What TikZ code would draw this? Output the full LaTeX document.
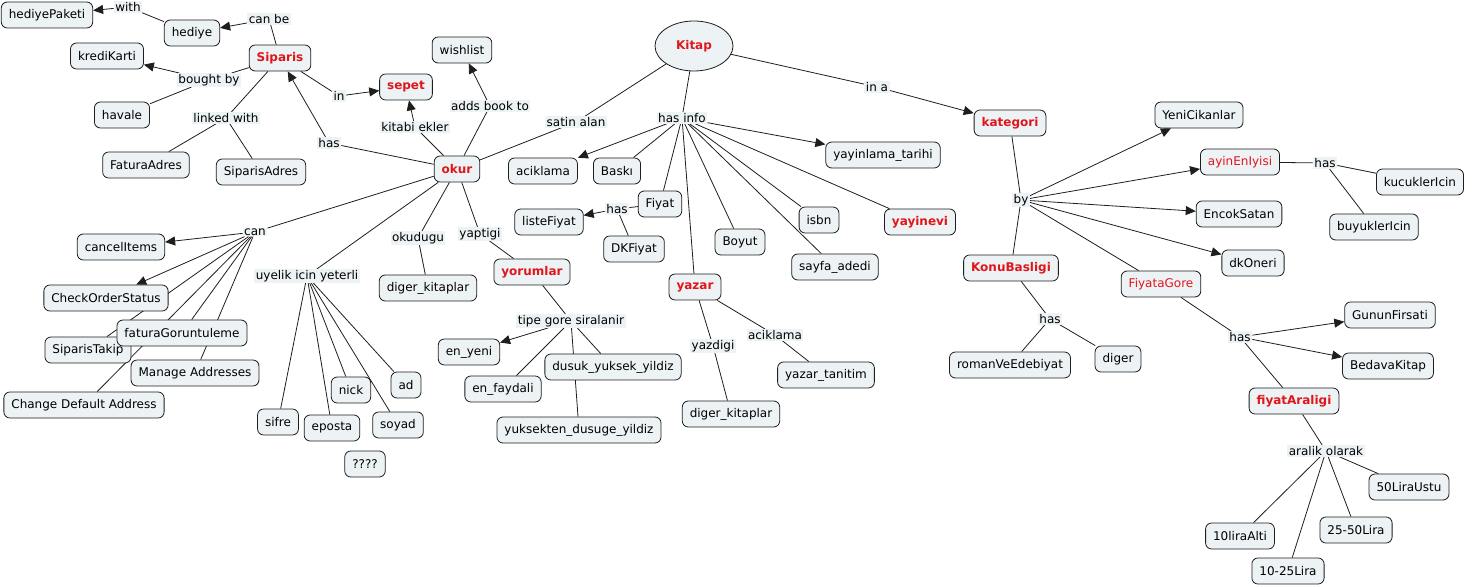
\documentclass[tikz,border=0pt]{standalone}
\usepackage{fontspec}
\setmainfont{DejaVu Sans}
\usepackage{xcolor}
\usepackage{tikz}
\usetikzlibrary{shapes.geometric, arrows.meta, backgrounds}
\definecolor{cfill}{HTML}{EDF2F5}
\definecolor{cred}{HTML}{E0161B}
\definecolor{cline}{HTML}{1E1E1E}

\begin{document}
\begin{tikzpicture}[x=1pt, y=-1pt, font=\fontsize{12}{14}\selectfont]
    \tikzstyle{concept} = [rectangle, rounded corners=6pt, draw=cline, line width=0.8pt, fill=cfill, minimum height=26pt, inner xsep=7.5pt]
    \tikzstyle{key} = [concept, text=cred, font=\fontsize{12}{14}\selectfont\bfseries]
    \tikzstyle{keylight} = [concept, text=cred]
    \tikzstyle{phrase} = [fill=cfill, inner xsep=1.5pt, inner ysep=1pt]
    \tikzstyle{line} = [draw=cline, line width=0.8pt]
    \tikzstyle{arrow} = [line, -{Triangle[length=10pt, width=9pt]}]

    \useasboundingbox (0,0) rectangle (1468,585);

    % Siparis side
    \node (hediyePaketi) [concept] at (47,15) {hediyePaketi};
    \node (hediye) [concept] at (192,33) {hediye};
    \node (siparis) [key] at (280,58) {Siparis};
    \node (krediKarti) [concept] at (107,56) {krediKarti};
    \node (havale) [concept] at (122,115) {havale};
    \node (faturaAdres) [concept] at (146,165) {FaturaAdres};
    \node (siparisAdres) [concept] at (261,172) {SiparisAdres};
    \node (sepet) [key] at (406,87) {sepet};
    \node (wishlist) [concept] at (462,50) {wishlist};
    \node (okur) [key] at (457,169) {okur};

    \node (with) [phrase] at (128,7) {with};
    \node (canBe) [phrase] at (269,19) {can be};
    \node (boughtBy) [phrase] at (209,80) {bought by};
    \node (linkedWith) [phrase] at (226,118) {linked with};
    \node (in) [phrase] at (339,96) {in};
    \node (kitabiEkler) [phrase] at (415,127) {kitabi ekler};
    \node (addsBook) [phrase] at (490,106) {adds book to};
    \node (hasSiparis) [phrase] at (329,143) {has};

    % okur below
    \node (cancelItems) [concept] at (121,247) {cancelItems};
    \node (checkOrder) [concept] at (106,298) {CheckOrderStatus};
    \node (siparisTakip) [concept] at (88,350) {SiparisTakip};
    \node (faturaGor) [concept] at (182,333) {faturaGoruntuleme};
    \node (manageAddr) [concept] at (195,373) {Manage Addresses};
    \node (changeAddr) [concept] at (84,405) {Change Default Address};
    \node (sifre) [concept] at (278,422) {sifre};
    \node (eposta) [concept] at (332,428) {eposta};
    \node (nick) [concept] at (351,390) {nick};
    \node (ad) [concept] at (406,385) {ad};
    \node (soyad) [concept] at (398,425) {soyad};
    \node (soru) [concept] at (365,464) {????};
    \node (digerKitaplar) [concept] at (428,288) {diger\_kitaplar};
    \node (yorumlar) [key] at (532,272) {yorumlar};
    \node (enYeni) [concept] at (469,352) {en\_yeni};
    \node (enFaydali) [concept] at (503,389) {en\_faydali};
    \node (dusukYuksek) [concept] at (613,367) {dusuk\_yuksek\_yildiz};
    \node (yuksektenDusuge) [concept] at (579,430) {yuksekten\_dusuge\_yildiz};

    \node (can) [phrase] at (255,232) {can};
    \node (uyelik) [phrase] at (307,276) {uyelik icin yeterli};
    \node (okudugu) [phrase] at (418,238) {okudugu};
    \node (yaptigi) [phrase] at (480,234) {yaptigi};
    \node (tipeGore) [phrase] at (571,321) {tipe gore siralanir};

    % Kitap
    \node (kitap) [ellipse, draw=cline, line width=0.8pt, fill=cfill, minimum width=78pt, minimum height=50pt, text=cred, font=\fontsize{12}{14}\selectfont\bfseries] at (694,46) {Kitap};
    \node (aciklama) [concept] at (543,171) {aciklama};
    \node (baski) [concept] at (617,171) {Baskı};
    \node (yayinlamaTarihi) [concept] at (883,155) {yayinlama\_tarihi};
    \node (fiyat) [concept] at (660,204) {Fiyat};
    \node (listeFiyat) [concept] at (549,222) {listeFiyat};
    \node (dkFiyat) [concept] at (634,249) {DKFiyat};
    \node (boyut) [concept] at (740,242) {Boyut};
    \node (isbn) [concept] at (819,220) {isbn};
    \node (yayinevi) [key] at (920,222) {yayinevi};
    \node (sayfaAdedi) [concept] at (835,267) {sayfa\_adedi};
    \node (yazar) [key] at (695,287) {yazar};
    \node (digerKitaplarB) [concept] at (731,414) {diger\_kitaplar};
    \node (yazarTanitim) [concept] at (826,375) {yazar\_tanitim};

    \node (satinAlan) [phrase] at (576,122) {satin alan};
    \node (hasInfo) [phrase] at (682,118) {has info};
    \node (inA) [phrase] at (877,87) {in a};
    \node (hasFiyat) [phrase] at (617,209) {has};
    \node (yazdigi) [phrase] at (713,346) {yazdigi};
    \node (aciklamaB) [phrase] at (775,335) {aciklama};

    % kategori
    \node (kategori) [key] at (1010,123) {kategori};
    \node (yeniCikanlar) [concept] at (1199,115) {YeniCikanlar};
    \node (ayinEnIyisi) [keylight] at (1240,162) {ayinEnIyisi};
    \node (kucuklerIcin) [concept] at (1420,182) {kucuklerIcin};
    \node (buyuklerIcin) [concept] at (1374,227) {buyuklerIcin};
    \node (encokSatan) [concept] at (1239,214) {EncokSatan};
    \node (dkOneri) [concept] at (1253,263) {dkOneri};
    \node (konuBasligi) [key] at (1011,268) {KonuBasligi};
    \node (fiyataGore) [keylight] at (1161,284) {FiyataGore};
    \node (romanVeEdebiyat) [concept] at (1010,365) {romanVeEdebiyat};
    \node (diger) [concept] at (1118,359) {diger};
    \node (gununFirsati) [concept] at (1390,315) {GununFirsati};
    \node (bedavaKitap) [concept] at (1388,366) {BedavaKitap};
    \node (fiyatAraligi) [key] at (1294,401) {fiyatAraligi};
    \node (liraUstu) [concept] at (1409,487) {50LiraUstu};
    \node (lira2550) [concept] at (1356,530) {25-50Lira};
    \node (liraAlti) [concept] at (1240,536) {10liraAlti};
    \node (lira1025) [concept] at (1288,571) {10-25Lira};

    \node (by) [phrase] at (1021,200) {by};
    \node (hasAyin) [phrase] at (1325,163) {has};
    \node (hasKonu) [phrase] at (1050,319) {has};
    \node (hasFiyata) [phrase] at (1240,337) {has};
    \node (aralik) [phrase] at (1326,451) {aralik olarak};

    \begin{scope}[on background layer]
    \draw [line] (hediye) -- (with);
    \draw [arrow] (with) -- (hediyePaketi);
    \draw [line] (siparis) -- (canBe);
    \draw [arrow] (canBe) -- (hediye);
    \draw [line] (siparis) -- (boughtBy);
    \draw [arrow] (boughtBy) -- (krediKarti);
    \draw [line] (boughtBy) -- (havale);
    \draw [line] (siparis) -- (linkedWith);
    \draw [line] (linkedWith) -- (faturaAdres);
    \draw [line] (linkedWith) -- (siparisAdres);
    \draw [line] (siparis) -- (in);
    \draw [arrow] (in) -- (sepet);
    \draw [line] (okur) -- (hasSiparis);
    \draw [arrow] (hasSiparis) -- (siparis);
    \draw [line] (okur) -- (kitabiEkler);
    \draw [arrow] (kitabiEkler) -- (sepet);
    \draw [line] (okur) -- (addsBook);
    \draw [arrow] (addsBook) -- (wishlist);

    \draw [line] (okur) -- (can);
    \draw [arrow] (can) -- (cancelItems);
    \draw [arrow] (can) -- (checkOrder);
    \draw [line] (can) -- (siparisTakip);
    \draw [line] (can) -- (faturaGor);
    \draw [line] (can) -- (manageAddr);
    \draw [line] (can) -- (changeAddr);
    \draw [line] (okur) -- (uyelik);
    \draw [line] (uyelik) -- (sifre);
    \draw [line] (uyelik) -- (eposta);
    \draw [line] (uyelik) -- (nick);
    \draw [line] (uyelik) -- (soyad);
    \draw [line] (uyelik) -- (ad);
    \draw [line] (okur) -- (okudugu);
    \draw [line] (okudugu) -- (digerKitaplar);
    \draw [line] (okur) -- (yaptigi);
    \draw [line] (yaptigi) -- (yorumlar);
    \draw [line] (yorumlar) -- (tipeGore);
    \draw [arrow] (tipeGore) -- (enYeni);
    \draw [line] (tipeGore) -- (enFaydali);
    \draw [line] (tipeGore) -- (dusukYuksek);
    \draw [line] (tipeGore) -- (yuksektenDusuge);

    \draw [line] (kitap) -- (satinAlan);
    \draw [line] (satinAlan) -- (okur);
    \draw [line] (kitap) -- (hasInfo);
    \draw [arrow] (hasInfo) -- (aciklama);
    \draw [line] (hasInfo) -- (baski);
    \draw [line] (hasInfo) -- (fiyat);
    \draw [line] (hasInfo) -- (yazar);
    \draw [line] (hasInfo) -- (boyut);
    \draw [line] (hasInfo) -- (sayfaAdedi);
    \draw [line] (hasInfo) -- (isbn);
    \draw [line] (hasInfo) -- (yayinevi);
    \draw [arrow] (hasInfo) -- (yayinlamaTarihi);
    \draw [line] (fiyat) -- (hasFiyat);
    \draw [arrow] (hasFiyat) -- (listeFiyat);
    \draw [line] (hasFiyat) -- (dkFiyat);
    \draw [line] (yazar) -- (yazdigi);
    \draw [line] (yazdigi) -- (digerKitaplarB);
    \draw [line] (yazar) -- (aciklamaB);
    \draw [line] (aciklamaB) -- (yazarTanitim);
    \draw [line] (kitap) -- (inA);
    \draw [arrow] (inA) -- (kategori);

    \draw [line] (kategori) -- (by);
    \draw [arrow] (by) -- (yeniCikanlar);
    \draw [arrow] (by) -- (ayinEnIyisi);
    \draw [arrow] (by) -- (encokSatan);
    \draw [arrow] (by) -- (dkOneri);
    \draw [line] (by) -- (fiyataGore);
    \draw [line] (by) -- (konuBasligi);
    \draw [line] (ayinEnIyisi) -- (hasAyin);
    \draw [line] (hasAyin) -- (kucuklerIcin);
    \draw [line] (hasAyin) -- (buyuklerIcin);
    \draw [line] (konuBasligi) -- (hasKonu);
    \draw [line] (hasKonu) -- (romanVeEdebiyat);
    \draw [line] (hasKonu) -- (diger);
    \draw [line] (fiyataGore) -- (hasFiyata);
    \draw [arrow] (hasFiyata) -- (gununFirsati);
    \draw [arrow] (hasFiyata) -- (bedavaKitap);
    \draw [line] (hasFiyata) -- (fiyatAraligi);
    \draw [line] (fiyatAraligi) -- (aralik);
    \draw [line] (aralik) -- (liraUstu);
    \draw [line] (aralik) -- (lira2550);
    \draw [line] (aralik) -- (liraAlti);
    \draw [line] (aralik) -- (lira1025);
    \end{scope}
\end{tikzpicture}
\end{document}
